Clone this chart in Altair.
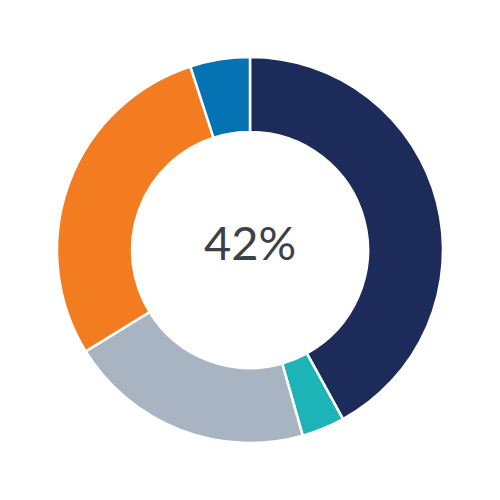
import altair as alt
import pandas as pd

categories = ["A", "B", "C", "D", "E"]
values = [42.0, 3.6, 20.6, 28.8, 5.0]
colors = ["#1c2b59", "#1db4b7", "#a9b4c3", "#f37c20", "#0472b3"]
center_label = "42%"

df = pd.DataFrame({"cat": categories, "val": values, "ord": list(range(len(categories)))})

base = alt.Chart(df)
arcs = base.mark_arc(outerRadius=193, innerRadius=118, stroke="white", strokeWidth=2.5).encode(
    theta=alt.Theta("val:Q", stack=True),
    color=alt.Color("cat:N", scale=alt.Scale(domain=categories, range=colors), legend=None),
    order=alt.Order("ord:Q"),
)

text = alt.Chart(pd.DataFrame({"t": [center_label]})).mark_text(
    font="Lato", fontSize=47, color="#3c4147", align="center", baseline="middle", dy=-4
).encode(text="t:N", x=alt.value(242), y=alt.value(242))

chart = alt.layer(arcs, text).properties(
    width=484, height=484, padding=0, autosize=alt.AutoSizeParams(type="none")
).configure_view(stroke=None)

chart.save("out.html", embed_options={"renderer": "svg", "actions": False})
